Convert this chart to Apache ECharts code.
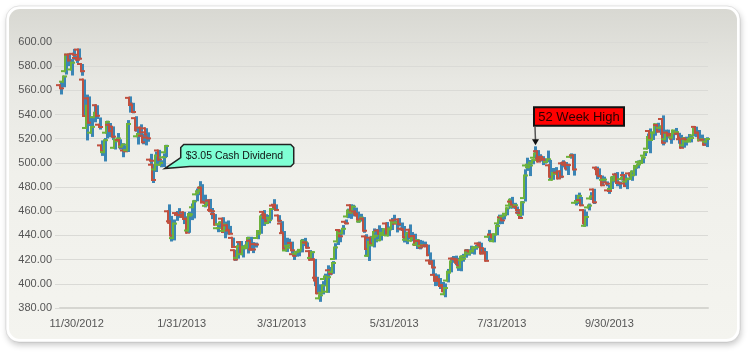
<!DOCTYPE html>
<html><head><meta charset="utf-8">
<script src="https://cdn.jsdelivr.net/npm/echarts/dist/echarts.min.js"></script>
<style>html,body{margin:0;padding:0;background:#fff}#c{width:750px;height:360px}</style>
</head><body><div id="c"></div>
<script>
// ---- data ----
const startDate = '2012-11-21';
const endDate = '2013-11-21';
const holidays = ['2012-11-22','2012-12-25','2013-01-01','2013-01-21','2013-02-18','2013-03-29','2013-05-27','2013-07-04','2013-09-02'];

const opens = [
564.3,567.2,575.9,589.6,577.3,590.2,586.8,
593.7,581.8,568.9,528.9,553.4,525.0,537.8,547.7,531.6,514.5,508.9,525.0,531.5,530.0,512.5,518.0,519.0,513.5,510.3,510.5,
553.8,547.9,537.0,522.0,529.2,522.5,528.6,521.0,502.7,498.5,494.6,510.3,498.5,504.6,508.8,460.0,451.7,437.8,458.5,457.0,457.0,
459.1,453.9,444.1,456.5,463.3,474.0,476.5,479.5,467.2,464.5,468.9,461.1,457.7,446.0,449.3,453.9,443.8,448.4,444.1,
438.0,427.8,421.5,434.5,424.5,429.5,429.8,435.6,428.5,432.8,437.9,441.5,459.5,457.4,450.2,454.6,464.7,465.4,456.5,449.8,
441.9,427.6,431.4,433.8,424.5,424.9,426.4,428.1,433.7,434.2,427.0,421.4,420.3,405.0,388.0,392.6,404.0,393.5,411.2,409.8,420.5,435.1,
444.5,441.8,451.3,455.7,465.0,459.0,459.8,458.0,451.5,453.9,439.2,423.2,438.2,431.9,438.5,444.1,436.0,440.3,449.9,440.0,445.7,452.5,
450.7,453.2,445.7,445.0,436.5,444.7,435.7,439.5,432.5,435.4,431.4,431.6,431.8,419.3,418.5,407.4,405.7,403.8,399.0,391.4,
402.7,410.0,420.9,420.4,420.1,413.6,419.6,422.8,427.6,425.0,426.9,429.7,433.4,433.1,429.5,426.0,438.9,440.7,435.3,440.8,450.0,455.0,
455.8,458.0,464.7,468.0,463.8,463.8,458.9,456.9,470.9,497.9,496.4,500.2,504.3,509.7,503.6,505.0,503.3,500.8,498.0,486.0,491.7,492.0,
493.1,499.6,500.3,498.4,505.0,506.2,467.0,468.5,469.3,461.0,448.0,463.2,470.6,478.0,496.1,494.9,489.2,486.0,483.8,477.3,
478.5,485.6,490.5,483.9,486.6,489.9,484.6,491.3,487.0,489.8,497.5,500.8,500.0,506.0,511.8,526.4,519.0,525.0,531.3,529.0,536.3,519.6,525.0,
524.0,521.1,524.6,524.2,519.6,514.6,520.0,517.7,518.0,522.8,529.8,525.0,519.0,519.2,517.6
];
const highs = [
567.4,572.0,590.0,590.6,585.8,594.3,588.4,
594.6,581.8,569.0,556.5,555.0,538.5,548.3,547.7,537.6,518.6,520.6,534.9,533.0,530.2,519.7,524.7,519.5,516.3,514.5,535.4,
555.0,549.7,538.6,529.3,531.9,524.3,528.7,525.3,507.5,499.0,509.4,510.8,502.2,507.9,515.0,465.7,456.2,453.2,460.2,462.6,459.3,
459.5,455.9,459.7,466.4,469.4,478.8,484.9,482.4,473.7,470.0,470.2,462.7,457.7,449.2,451.6,455.1,451.5,452.4,447.9,
438.2,428.2,435.2,435.4,432.0,435.4,439.0,438.9,434.5,434.1,444.2,457.5,461.0,457.6,457.0,462.1,470.0,465.7,456.8,451.8,
443.7,438.1,437.3,434.9,425.0,427.5,428.5,437.1,438.0,434.2,427.9,426.9,420.6,405.8,399.6,402.2,408.4,415.3,413.9,418.8,433.6,445.3,
444.9,448.6,453.2,462.2,465.8,465.4,463.0,459.7,457.9,455.2,441.0,437.9,439.5,445.8,445.4,448.4,446.2,445.6,451.1,447.5,454.5,457.1,
452.4,454.4,450.7,447.8,443.2,449.1,442.8,441.4,437.1,436.3,435.7,434.9,432.4,426.0,420.0,408.7,407.8,404.8,401.5,400.3,
412.3,421.6,423.0,423.3,421.5,423.5,424.8,428.8,428.6,431.5,430.7,432.2,434.9,434.0,429.8,427.0,444.6,441.4,441.0,450.0,457.2,457.3,
456.8,462.9,470.7,471.9,467.0,463.9,460.5,468.5,494.7,504.3,502.4,502.9,513.7,510.6,507.2,505.6,503.4,510.2,502.5,495.8,496.5,493.0,
500.6,502.2,500.7,499.4,507.9,507.5,473.7,475.4,471.8,461.6,459.7,466.4,475.8,478.6,496.9,495.5,489.6,488.6,484.7,481.7,
489.1,491.8,492.4,484.6,492.7,490.6,487.8,492.4,493.8,497.6,502.0,502.5,504.8,509.3,524.3,528.5,525.7,532.5,533.2,531.0,539.3,527.5,527.5,
524.8,526.8,528.9,524.9,523.2,521.1,521.7,523.9,522.3,529.3,530.0,527.2,523.4,520.4,521.2
];
const lows = [
556.6,562.6,573.1,580.1,572.3,585.3,582.7,
585.5,572.1,538.8,518.6,530.5,521.5,533.6,536.3,527.6,505.8,501.2,520.2,521.2,518.9,511.1,518.0,511.1,504.7,509.1,509.0,
541.6,541.0,525.8,515.2,521.3,515.4,514.5,517.5,498.5,483.4,492.5,497.8,496.4,496.6,504.8,450.3,435.0,435.9,452.1,454.5,455.1,
449.4,442.0,442.2,452.7,454.1,468.3,473.3,467.7,463.2,464.1,459.1,453.5,448.8,442.7,446.6,442.6,437.7,440.7,441.2,
430.0,419.0,420.8,424.4,421.8,428.6,425.1,427.6,425.4,430.0,436.9,441.4,447.9,450.0,450.1,453.1,461.8,460.7,450.7,441.6,
427.7,426.4,430.6,425.1,419.7,422.5,422.8,426.0,431.2,429.1,419.6,420.5,398.1,391.5,385.1,391.3,398.8,392.5,407.0,408.3,420.0,432.1,
434.4,440.6,449.2,454.3,453.7,455.8,455.6,450.5,451.5,442.2,422.4,418.9,431.1,430.1,434.3,436.6,435.8,440.2,440.9,439.4,444.5,449.5,
442.5,447.4,443.7,434.2,432.8,436.8,435.2,431.5,428.8,428.5,430.4,430.2,423.7,415.7,408.1,398.1,398.3,395.7,393.5,388.9,
401.2,409.5,417.5,415.4,410.7,410.4,418.3,421.6,423.3,424.8,424.2,428.2,430.6,424.4,425.5,418.7,435.3,435.8,434.3,440.2,449.2,449.4,
453.3,456.7,462.2,462.2,461.8,457.5,453.6,456.4,468.1,493.4,489.1,498.9,504.0,500.8,501.2,498.2,499.4,500.5,486.3,486.0,491.1,486.5,
487.4,496.3,493.6,490.0,503.5,489.5,464.8,466.0,464.7,447.2,447.5,460.7,469.3,466.0,486.5,487.8,481.4,483.9,480.7,474.4,
478.4,483.8,480.7,478.6,485.4,480.5,478.3,487.0,485.2,489.4,495.5,499.2,499.7,505.7,511.5,508.0,519.0,522.5,525.1,523.2,514.5,517.0,521.3,
515.8,518.8,523.0,515.9,512.4,512.6,514.4,517.0,517.0,521.9,521.3,518.2,518.0,514.3,513.1
];
const closes = [
561.7,571.5,589.5,584.8,582.9,589.4,585.3,
586.2,575.9,538.8,547.2,533.3,529.8,541.4,539.0,529.7,509.8,518.8,533.9,526.3,521.7,519.3,520.2,513.0,515.1,509.6,532.2,
549.0,542.1,527.0,523.9,525.3,517.1,523.5,520.3,501.8,485.9,506.1,502.7,500.0,504.8,514.0,450.5,439.9,449.8,458.3,456.8,455.5,
453.6,442.3,457.8,457.4,468.2,475.0,479.9,467.9,467.0,466.6,460.2,460.0,448.9,446.1,450.8,442.8,449.0,444.6,441.4,
430.5,420.1,431.1,425.7,430.6,431.7,437.9,428.4,428.4,432.5,443.7,455.7,454.5,452.1,452.7,461.9,463.6,461.1,452.1,442.7,
428.9,429.8,432.0,427.7,423.2,426.2,427.0,435.7,434.3,429.8,419.9,426.2,402.8,392.1,390.5,398.7,406.1,405.5,408.4,417.2,430.1,442.8,
439.3,445.5,450.0,460.7,458.7,463.8,456.8,453.0,454.7,443.9,428.9,434.6,433.3,442.9,439.7,441.4,442.1,445.2,441.4,445.0,451.6,449.7,
450.7,449.3,445.1,438.5,441.8,438.9,437.6,432.2,436.0,430.1,432.0,431.1,423.7,416.8,413.5,402.5,402.6,398.1,393.8,396.5,
409.2,418.5,420.8,417.4,415.1,422.4,420.7,427.3,426.5,427.4,430.2,430.3,431.8,425.0,426.3,419.0,440.5,438.5,441.0,447.8,453.3,452.5,
456.7,462.5,469.5,465.3,465.0,461.0,454.5,467.4,489.6,498.5,497.9,502.3,507.7,501.1,502.4,503.0,501.0,503.0,488.6,490.9,491.7,487.2,
488.6,498.7,495.3,498.2,506.2,494.6,467.7,472.7,464.9,450.1,455.3,464.7,472.3,467.4,490.6,489.1,481.5,486.2,482.8,476.8,
488.0,489.6,483.4,483.0,487.8,480.9,486.6,489.6,492.8,496.0,498.7,501.1,504.5,508.9,521.4,519.9,525.0,531.9,526.0,529.9,516.7,524.9,522.7,
520.0,526.8,525.5,520.9,512.5,520.6,519.1,520.0,520.6,528.2,525.0,518.6,519.6,515.0,519.8
];
const xTickLabels = ['11/30/2012','1/31/2013','3/31/2013','5/31/2013','7/31/2013','9/30/2013'];
const yMin = 380, yMax = 600, yStep = 20;
const annotationDates = ['2013-01-22','2013-08-19'];
const annotationTexts = ['$3.05 Cash Dividend','52 Week High'];

// ---- trading dates (weekdays minus market holidays) ----
const dates = [];
for (let d = new Date(startDate + 'T00:00:00Z'); d <= new Date(endDate + 'T00:00:00Z'); d.setUTCDate(d.getUTCDate() + 1)) {
  const wd = d.getUTCDay();
  const iso = d.toISOString().slice(0, 10);
  if (wd === 0 || wd === 6 || holidays.includes(iso)) continue;
  dates.push(iso);
}
function toIso(mdy) { const p = mdy.split('/'); return p[2] + '-' + p[0].padStart(2,'0') + '-' + p[1].padStart(2,'0'); }
const labelAt = {};
xTickLabels.forEach(t => {
  const iso = toIso(t); let k = -1;
  dates.forEach((d, i) => { if (d <= iso) k = i; });
  labelAt[k] = t;
});

const BLUE = '#3a85b5', GREEN = '#6db23b', RED = '#c0503f';
const seriesData = dates.map((d, i) => [i, opens[i], highs[i], lows[i], closes[i]]);

function renderItem(params, api) {
  const i = api.value(0), o = api.value(1), h = api.value(2), l = api.value(3), c = api.value(4);
  const po = api.coord([i, o]);
  const x = Math.round(po[0]);
  const yo = po[1], yh = api.coord([i, h])[1], yl = api.coord([i, l])[1], yc = api.coord([i, c])[1];
  const col = c >= o ? GREEN : RED;
  const top = Math.min(yo, yc), bot = Math.max(yo, yc);
  return { type: 'group', children: [
    { type: 'rect', shape: { x: x - 1, y: yh, width: 3, height: Math.max(1, yl - yh) }, style: { fill: BLUE } },
    { type: 'rect', shape: { x: x - 2, y: top - 1, width: 2, height: Math.max(2, bot - top + 2) }, style: { fill: col } },
    { type: 'rect', shape: { x: x - 5, y: yo - 1, width: 4, height: 2 }, style: { fill: col } },
    { type: 'rect', shape: { x: x - 1, y: yc - 1, width: 4, height: 2 }, style: { fill: col } }
  ]};
}

const chart = echarts.init(document.getElementById('c'), null, { renderer: 'canvas' });
const FONT = '"Liberation Sans", Arial, sans-serif';
chart.setOption({
  animation: false,
  grid: { left: 60, right: 42, top: 42, bottom: 52, containLabel: false, outerBoundsMode: 'none' },
  xAxis: {
    type: 'category', data: dates, boundaryGap: true,
    axisLine: { show: true, lineStyle: { color: '#d6d6d1', width: 2 } },
    axisTick: { show: false },
    splitLine: { show: false },
    axisLabel: {
      interval: (idx) => labelAt[idx] !== undefined,
      formatter: (v, idx) => labelAt[idx] || '',
      color: '#555', fontFamily: FONT, fontSize: 11, margin: 10
    }
  },
  yAxis: {
    type: 'value', min: yMin, max: yMax, interval: yStep,
    axisLine: { show: false },
    axisTick: { show: true, length: 5, lineStyle: { color: '#dadad6' } },
    splitLine: { show: true, lineStyle: { color: '#dadad6', width: 1 } },
    axisLabel: { formatter: v => v.toFixed(2), color: '#555', fontFamily: FONT, fontSize: 11, margin: 8 }
  },
  series: [{
    type: 'custom', renderItem: renderItem, data: seriesData,
    encode: { x: 0, y: [1, 2, 3, 4] }, z: 5
  }]
});

// ---- background panel + annotations (positioned from data via the chart's scales) ----
const idxDiv = dates.indexOf(annotationDates[0]);
const idxHigh = dates.indexOf(annotationDates[1]);
const pDiv = chart.convertToPixel({ seriesIndex: 0 }, [idxDiv, lows[idxDiv]]);
const pHigh = chart.convertToPixel({ seriesIndex: 0 }, [idxHigh, highs[idxHigh]]);

const tx = pDiv[0] + 1, ty = pDiv[1] + 1.5;
const L = tx + 16, T = ty - 24, R = L + 113, B = T + 22;
const hx = Math.round(pHigh[0]) + 0.5, hy = pHigh[1];
const bL = hx - 1.5, bT = hy - 39, bW = 90, bH = 18.5;

chart.setOption({
  graphic: { elements: [
    { type: 'rect', z: -100, shape: { x: 6, y: 6, width: 734, height: 336, r: 13 },
      style: { fill: '#ffffff', stroke: 'rgba(0,0,0,0.10)', lineWidth: 1, shadowBlur: 6, shadowOffsetX: 1, shadowOffsetY: 3, shadowColor: 'rgba(0,0,0,0.22)' } },
    { type: 'rect', z: -99, shape: { x: 9, y: 9, width: 728, height: 330, r: 11 },
      style: { fill: new echarts.graphic.LinearGradient(0, 0, 0, 1, [
        { offset: 0, color: '#d8d8d2' }, { offset: 0.22, color: '#e8e8e3' },
        { offset: 0.5, color: '#f0f0eb' }, { offset: 1, color: '#f4f4ef' }]) } },
    { type: 'polygon', z: 100, shape: { points: [[L + 3, T], [R - 3, T], [R, T + 3], [R, B - 3], [R - 3, B], [L + 9, B], [tx, ty], [L, B - 9], [L, T + 3]] },
      style: { fill: '#7fffd4', stroke: '#222', lineWidth: 1.5 } },
    { type: 'text', z: 101, style: { text: annotationTexts[0], x: L + 5, y: (T + B) / 2 + 0.5, font: '10.5px ' + FONT, fill: '#111',
      align: 'left', verticalAlign: 'middle', textAlign: 'left', textVerticalAlign: 'middle' } },
    { type: 'rect', z: 100, shape: { x: bL, y: bT, width: bW, height: bH },
      style: { fill: '#ff0000', stroke: '#111', lineWidth: 2 } },
    { type: 'text', z: 101, style: { text: annotationTexts[1], x: bL + bW / 2, y: bT + bH / 2 + 0.5, font: '13px ' + FONT, fill: '#2a0000',
      align: 'center', verticalAlign: 'middle', textAlign: 'center', textVerticalAlign: 'middle' } },
    { type: 'line', z: 100, shape: { x1: hx - 0.5, y1: bT + bH + 1, x2: hx, y2: hy - 5 },
      style: { stroke: '#555', lineWidth: 1.5 } },
    { type: 'polygon', z: 100, shape: { points: [[hx - 3.5, hy - 7], [hx + 3.5, hy - 7], [hx, hy - 1]] },
      style: { fill: '#111' } }
  ]}
});
</script>
</body></html>
